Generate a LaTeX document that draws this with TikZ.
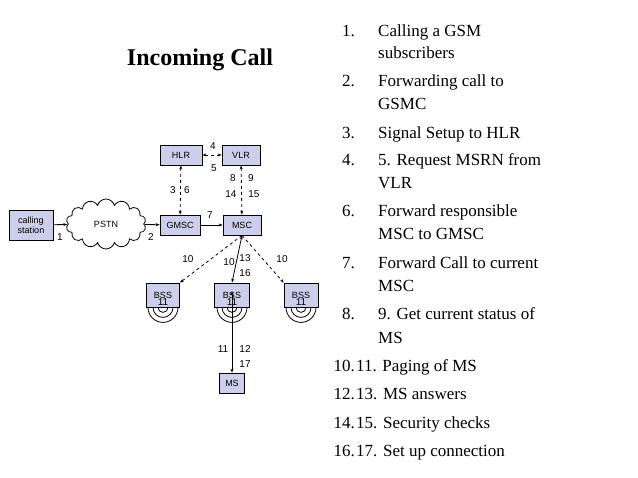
\documentclass[tikz,border=0pt]{standalone}
\usepackage{fontspec}
\setmainfont{Liberation Serif}
\newfontfamily\diagfont{Liberation Sans}
\usetikzlibrary{shapes.symbols,arrows.meta}
\definecolor{boxfill}{RGB}{204,206,236}
\tikzset{
  box/.style={draw, thick, fill=boxfill, font=\diagfont\fontsize{9}{10}\selectfont, minimum height=20pt, inner sep=2pt, align=center},
  num/.style={font=\diagfont\fontsize{10}{11}\selectfont, inner sep=1pt},
  sig/.style={dashed, thick, {Stealth[length=4pt]}-{Stealth[length=4pt]}},
  one/.style={thick, -{Stealth[length=4pt]}},
  item/.style={font=\fontsize{17}{19}\selectfont, anchor=base west, inner sep=0pt}
}
\begin{document}
\begin{tikzpicture}[x=1pt,y=-1pt]
  \useasboundingbox (0,0) rectangle (638,478);

  % Title
  \node[font=\bfseries\fontsize{24}{27}\selectfont] (title) at (200,60) {Incoming Call};

  % Network elements
  \node[box, minimum width=42pt] (hlr) at (181,155) {HLR};
  \node[box, minimum width=38pt] (vlr) at (241,155) {VLR};
  \node[box, minimum width=44pt, minimum height=30pt] (station) at (31,225) {calling\\station};
  \node[cloud, draw, thick, cloud puffs=14, aspect=1.8, minimum width=80pt, minimum height=50pt,
        font=\diagfont\fontsize{9}{10}\selectfont] (pstn) at (106,224) {PSTN};
  \node[box, minimum width=40pt] (gmsc) at (180,225) {GMSC};
  \node[box, minimum width=38pt] (msc) at (242,225) {MSC};
  \node[box, minimum width=33pt, minimum height=24pt] (bssa) at (163,295) {BSS};
  \node[box, minimum width=35pt, minimum height=24pt] (bssb) at (232,295) {BSS};
  \node[box, minimum width=34pt, minimum height=24pt] (bssc) at (301,295) {BSS};
  \node[box, minimum width=25pt] (ms) at (232,383) {MS};

  % Antennas
  \foreach \b in {bssa,bssb,bssc}{
    \foreach \r in {5,10,15}
      \draw[thick] ([xshift=-\r pt]\b.south) arc[start angle=180, end angle=360, x radius=\r pt, y radius=\r pt];
    \node[num] at ([yshift=5pt]\b.south) {11};
  }
  \coordinate (ant) at ([yshift=16pt]bssb.south);

  % Connectors
  \draw[one] (station) -- (pstn);
  \draw[one] (pstn) -- (gmsc);
  \draw[one] (gmsc) -- (msc);
  \draw[sig] (hlr) -- (vlr);
  \draw[sig] (hlr) -- (gmsc);
  \draw[sig] (vlr) -- (msc);
  \draw[dashed, thick, -{Stealth[length=4pt]}] (msc.south) -- (bssa.north east);
  \draw[dashed, thick, -{Stealth[length=4pt]}] (msc.south) -- (bssc.north west);
  \draw[thick, {Stealth[length=4pt]}-{Stealth[length=4pt]}] (msc.south) -- (bssb.north);
  \draw[thick, {Stealth[length=4pt]}-{Stealth[length=4pt]}] (ant) -- (ms);

  % Step numbers
  \node[num] (n1) at (60,237) {1};
  \node[num] (n2) at (151,237) {2};
  \node[num] (n3) at (173,190) {3};
  \node[num] (n6) at (187,190) {6};
  \node[num] (n4) at (213,146) {4};
  \node[num] (n5) at (214,168) {5};
  \node[num] (n7) at (210,215) {7};
  \node[num] (n8) at (233,178) {8};
  \node[num] (n9) at (251,178) {9};
  \node[num] (n14) at (231,194) {14};
  \node[num] (n15) at (254,194) {15};
  \node[num] (n10a) at (188,259) {10};
  \node[num] (n10b) at (229,262) {10};
  \node[num] (n13) at (245,258) {13};
  \node[num] (n16) at (245,273) {16};
  \node[num] (n10c) at (282,259) {10};
  \node[num] (n11) at (223,349) {11};
  \node[num] (n12) at (245,349) {12};
  \node[num] (n17) at (245,364) {17};

  % Step list
  \foreach \n/\y/\x/\t in {1./37/378/Calling a GSM, /59/378/subscribers, 2./87/378/Forwarding call to, /110/378/GSMC,
      3./139/378/Signal Setup to HLR, 4./166/378/5. Request MSRN from, /189/378/VLR,
      6./217/378/Forward responsible, /240/378/MSC to GMSC, 7./269/378/Forward Call to current, /292/378/MSC,
      8./320/378/9. Get current status of, /344/378/MS, 10./372/356/11. Paging of MS, 12./400/356/13. MS answers,
      14./429/356/15. Security checks, 16./457/356/17. Set up connection}{
    \node[item, anchor=base east] at (355,\y) {\n};
    \node[item] at (\x,\y) {\t};
  }
\end{tikzpicture}
\end{document}
